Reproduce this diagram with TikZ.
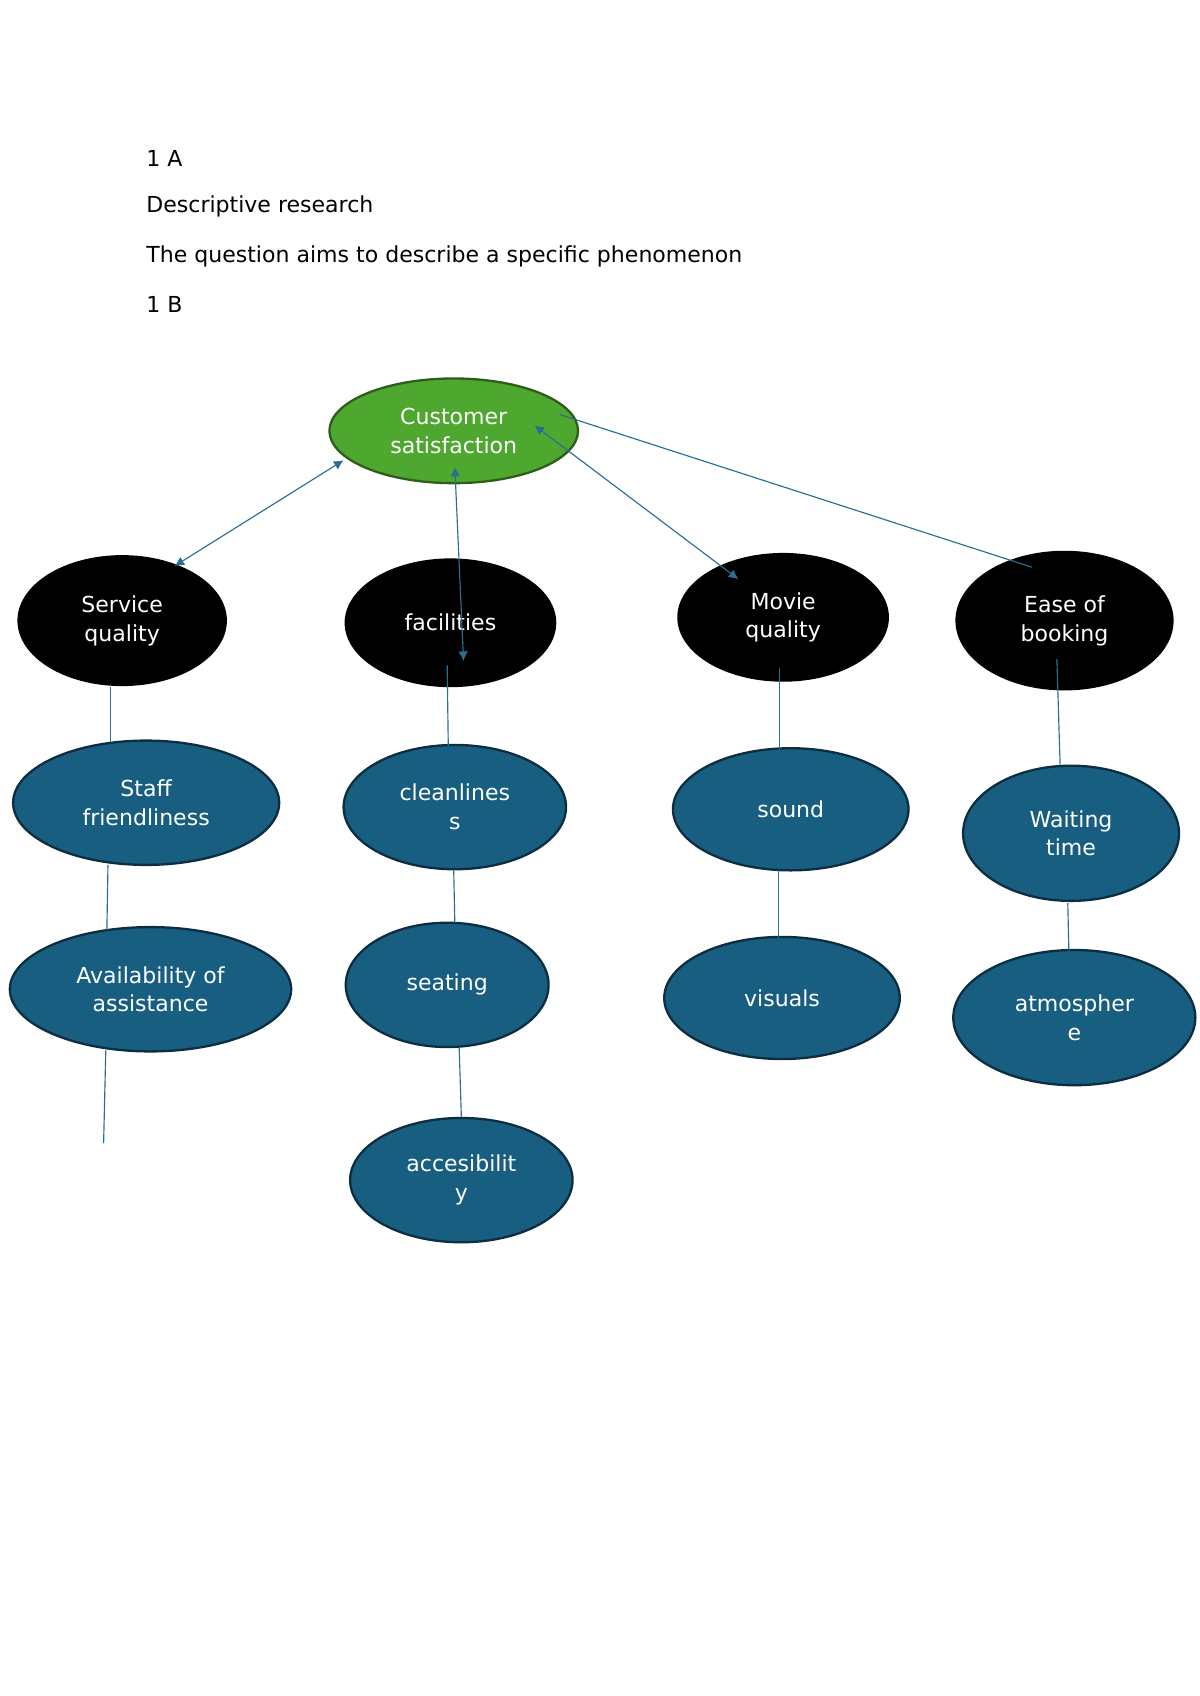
\documentclass[tikz,border=0pt]{standalone}
\usepackage{fontspec}
\setmainfont{DejaVu Sans}
\usetikzlibrary{shapes.geometric,arrows.meta}
\definecolor{cgreen}{HTML}{4EA72E}
\definecolor{cgreenb}{HTML}{2E5E1A}
\definecolor{cblue}{HTML}{175E80}
\definecolor{cblueb}{HTML}{0C2E40}
\definecolor{cline}{HTML}{2A6F93}
\begin{document}
\begin{tikzpicture}[x=0.02cm,y=-0.02cm,
  el/.style={ellipse,draw,line width=1.2pt,text=white,align=center,font=\fontsize{11.5}{15}\selectfont,inner sep=0pt},
  gr/.style={el,fill=cgreen,draw=cgreenb},
  bk/.style={el,fill=black,draw=black},
  bl/.style={el,fill=cblue,draw=cblueb},
  ln/.style={draw=cline,line width=0.6pt},
  ar/.style={ln,{Latex[length=5pt,width=5pt]}-{Latex[length=5pt,width=5pt]}},
  tx/.style={anchor=west,font=\fontsize{11.5}{14}\selectfont}]
\useasboundingbox (0,0) rectangle (1100,1555);
\node[tx] (t1) at (128,145) {1 A};
\node[tx] (t2) at (128,189) {Descriptive research};
\node[tx] (t3) at (128,235) {The question aims to describe a specific phenomenon};
\node[tx] (t4) at (128,279) {1 B};
\node[gr,minimum width=228\pgflinewidth,minimum width=4.56cm,minimum height=1.92cm] (cs) at (416,395) {Customer\\satisfaction};
\node[bk,minimum width=3.8cm,minimum height=2.36cm] (sq) at (112,569) {Service\\quality};
\node[bk,minimum width=3.84cm,minimum height=2.32cm] (fa) at (413,571) {facilities};
\node[bk,minimum width=3.84cm,minimum height=2.32cm] (mq) at (718,566) {Movie\\quality};
\node[bk,minimum width=3.96cm,minimum height=2.52cm] (eb) at (976,569) {Ease of\\booking};
\node[bl,minimum width=4.88cm,minimum height=2.28cm] (sf) at (134,736) {Staff\\friendliness};
\node[bl,minimum width=4.08cm,minimum height=2.28cm] (cl) at (417,740) {cleanlines\\s};
\node[bl,minimum width=4.32cm,minimum height=2.24cm] (so) at (725,742) {sound};
\node[bl,minimum width=3.96cm,minimum height=2.48cm] (wt) at (982,764) {Waiting\\time};
\node[bl,minimum width=5.16cm,minimum height=2.28cm] (av) at (138,907) {Availability of\\assistance};
\node[bl,minimum width=3.72cm,minimum height=2.28cm] (se) at (410,903) {seating};
\node[bl,minimum width=4.32cm,minimum height=2.24cm] (vi) at (717,915) {visuals};
\node[bl,minimum width=4.44cm,minimum height=2.48cm] (at) at (985,933) {atmospher\\e};
\node[bl,minimum width=4.08cm,minimum height=2.28cm] (ac) at (423,1082) {accesibilit\\y};
% connectors
\coordinate (a1) at (315,422); \coordinate (b1) at (160,519);
\coordinate (a2) at (417,428); \coordinate (b2) at (425,606);
\coordinate (a3) at (490,390); \coordinate (b3) at (677,531);
\coordinate (a4) at (513,380); \coordinate (b4) at (946,520);
\draw[ar] (a1) -- (b1);
\draw[ar] (a2) -- (b2);
\draw[ar] (a3) -- (b3);
\draw[ln] (a4) -- (b4);
\coordinate (c1) at (101,630); \coordinate (d1) at (101,680);
\coordinate (c2) at (410,610); \coordinate (d2) at (411,684);
\coordinate (c3) at (715,612); \coordinate (d3) at (715,688);
\coordinate (c4) at (969,604); \coordinate (d4) at (972,702);
\coordinate (c5) at (99,793); \coordinate (d5) at (98,853);
\coordinate (c6) at (416,798); \coordinate (d6) at (417,846);
\coordinate (c7) at (714,798); \coordinate (d7) at (714,860);
\coordinate (c8) at (979,828); \coordinate (d8) at (980,872);
\coordinate (c9) at (97,963); \coordinate (d9) at (95,1048);
\coordinate (c10) at (421,961); \coordinate (d10) at (423,1024);
\foreach \i in {1,...,10} {\draw[ln] (c\i) -- (d\i);}
\end{tikzpicture}
\end{document}
